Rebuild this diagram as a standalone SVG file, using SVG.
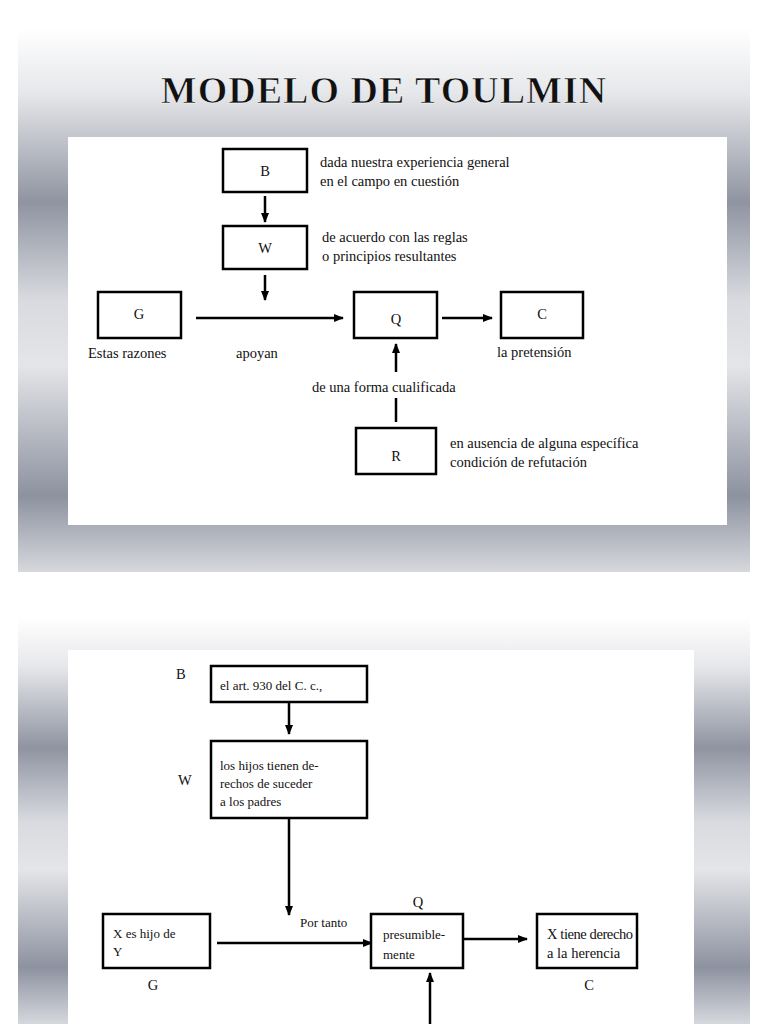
<svg xmlns="http://www.w3.org/2000/svg" width="768" height="1024" viewBox="0 0 768 1024">
<defs>
<linearGradient id="bg" x1="0" y1="0" x2="0" y2="1">
<stop offset="0" stop-color="#ffffff"/>
<stop offset="0.12" stop-color="#e6e7ea"/>
<stop offset="0.32" stop-color="#8f94a1"/>
<stop offset="0.5" stop-color="#d8dadf"/>
<stop offset="0.62" stop-color="#e4e5e8"/>
<stop offset="0.86" stop-color="#8d92a0"/>
<stop offset="1" stop-color="#d6d8dd"/>
</linearGradient>
<marker id="ah" viewBox="0 0 10 10" refX="9" refY="5" markerWidth="4" markerHeight="4" orient="auto"><path d="M0,1 L10,5 L0,9 z" fill="#000"/></marker>
<style>
.t{font-family:"Liberation Serif",serif;font-size:14.5px;fill:#111}
.s{font-size:13px}
.b{fill:#fff;stroke:#000;stroke-width:2.5}
.l{stroke:#000;stroke-width:2.5;fill:none;marker-end:url(#ah)}
.n{stroke:#000;stroke-width:2.5;fill:none}
</style>
</defs>
<rect width="768" height="1024" fill="#fff"/>
<rect x="18" y="28" width="732" height="544" fill="url(#bg)"/>
<rect x="18" y="618" width="732" height="406" fill="url(#bg)"/>
<text x="384" y="103" text-anchor="middle" font-family="Liberation Sans Narrow,Liberation Serif,serif" font-size="38" font-weight="bold" fill="#111" stroke="#fff" stroke-width="0.6" letter-spacing="1">MODELO DE TOULMIN</text>
<rect x="68" y="137" width="659" height="388" fill="#fff"/>
<rect x="68" y="650" width="626" height="374" fill="#fff"/>
<g id="connectors">
<path class="l" d="M265,196 V222"/>
<path class="l" d="M265,275 V300"/>
<path class="l" d="M196,318 H343"/>
<path class="l" d="M442,318 H492"/>
<path class="l" d="M396,372 V344"/>
<path class="n" d="M396,398 V422"/>
<path class="l" d="M289,702 V734"/>
<path class="l" d="M289,818 V915"/>
<path class="l" d="M217,943 H372"/>
<path class="l" d="M463,939 H527"/>
<path class="l" d="M430,1024 V973"/>
</g>
<g id="B1"><rect class="b" x="223" y="149" width="84" height="43"/><text class="t" x="265" y="176" text-anchor="middle">B</text></g>
<text class="t" x="320" y="167">dada nuestra experiencia general</text>
<text class="t" x="320" y="186">en el campo en cuestión</text>
<g id="W1"><rect class="b" x="223" y="226" width="84" height="43"/><text class="t" x="265" y="253" text-anchor="middle">W</text></g>
<text class="t" x="322" y="242">de acuerdo con las reglas</text>
<text class="t" x="322" y="261">o principios resultantes</text>
<g id="G1"><rect class="b" x="98" y="292" width="83" height="46"/><text class="t" x="139" y="319" text-anchor="middle">G</text></g>
<text class="t" x="88" y="358">Estas razones</text>
<text class="t" x="236" y="358">apoyan</text>
<g id="Q1"><rect class="b" x="354" y="292" width="83" height="46"/><text class="t" x="396" y="324" text-anchor="middle">Q</text></g>
<g id="C1"><rect class="b" x="501" y="292" width="82" height="46"/><text class="t" x="542" y="319" text-anchor="middle">C</text></g>
<text class="t" x="497" y="357">la pretensión</text>
<text class="t" x="312" y="392">de una forma cualificada</text>
<g id="R1"><rect class="b" x="356" y="428" width="80" height="46"/><text class="t" x="396" y="461" text-anchor="middle">R</text></g>
<text class="t" x="450" y="448">en ausencia de alguna específica</text>
<text class="t" x="450" y="467">condición de refutación</text>
<text class="t" x="176" y="679">B</text>
<g id="B2"><rect class="b" x="211" y="666" width="156" height="36"/><text class="t s" x="220" y="690">el art. 930 del C. c.,</text></g>
<text class="t" x="178" y="785">W</text>
<g id="W2"><rect class="b" x="211" y="741" width="156" height="77"/><text class="t s" x="220" y="770">los hijos tienen de-</text><text class="t s" x="220" y="788">rechos de suceder</text><text class="t s" x="220" y="806">a los padres</text></g>
<text class="t s" x="300" y="927">Por tanto</text>
<text class="t" x="418" y="907" text-anchor="middle">Q</text>
<g id="G2"><rect class="b" x="103" y="914" width="107" height="54"/><text class="t s" x="113" y="938">X es hijo de</text><text class="t s" x="113" y="956">Y</text></g>
<text class="t" x="153" y="990" text-anchor="middle">G</text>
<g id="Q2"><rect class="b" x="371" y="914" width="92" height="54"/><text class="t s" x="383" y="939">presumible-</text><text class="t s" x="383" y="959">mente</text></g>
<g id="C2"><rect class="b" x="537" y="914" width="100" height="54"/><text class="t" x="547" y="939" font-size="12.5" textLength="86">X tiene derecho</text><text class="t" x="547" y="958" font-size="12.5">a la herencia</text></g>
<text class="t" x="589" y="990" text-anchor="middle">C</text>
</svg>
